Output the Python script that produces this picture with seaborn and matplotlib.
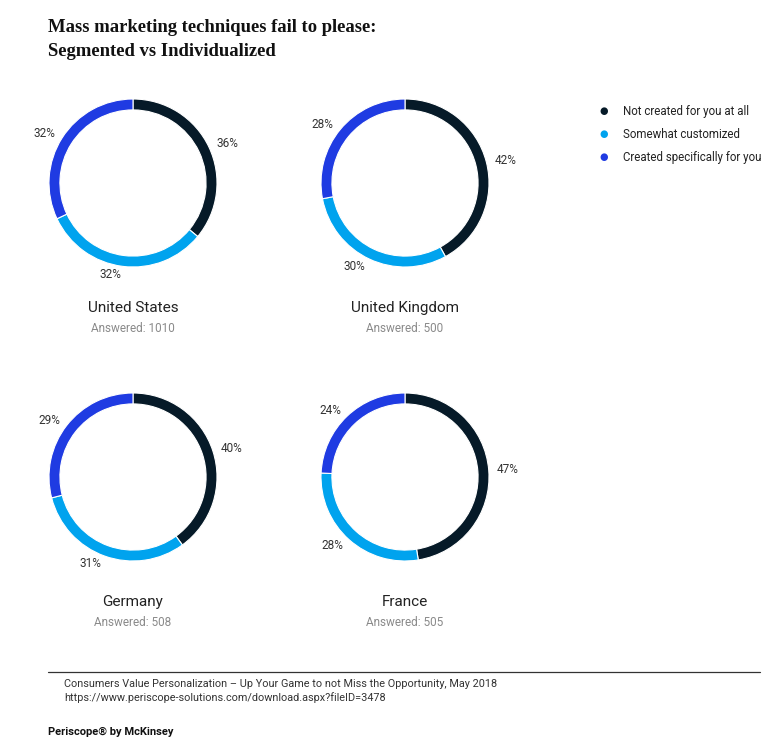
import matplotlib
matplotlib.use("Agg")
import matplotlib.pyplot as plt
import seaborn as sns

# data
countries = ["United States", "United Kingdom", "Germany", "France"]
answered = [1010, 500, 508, 505]
categories = ["Not created for you at all", "Somewhat customized", "Created specifically for you"]
not_created = [36, 42, 40, 47]
somewhat = [32, 30, 31, 28]
specific = [32, 28, 29, 24]

colors = ["#061A28", "#00A3EE", "#1F3BE2"]

sns.set_theme(style="white")
plt.rcParams["font.family"] = ["Roboto", "DejaVu Sans"]

W, H = 768, 754
fig = plt.figure(figsize=(W / 100, H / 100), dpi=100)
fig.patch.set_facecolor("white")

# donut centres in pixels, outer radius in pixels
centres = [(133, 183), (405, 183), (133, 477), (405, 477)]
R = 84
span = 1.4  # axes half-width in units of radius


def px_axes(cx, cy):
    half = R * span
    return fig.add_axes([(cx - half) / W, 1 - (cy + half) / H, 2 * half / W, 2 * half / H])


for i, country in enumerate(countries):
    cx, cy = centres[i]
    ax = px_axes(cx, cy)
    vals = [not_created[i], somewhat[i], specific[i]]
    ax.pie(vals, colors=colors, startangle=90, counterclock=False, radius=1,
           labels=[f"{v}%" for v in vals], labeldistance=1.1,
           textprops=dict(fontsize=8.5, color="#333333", va="center"),
           wedgeprops=dict(width=0.13, edgecolor="white", linewidth=0.8))
    ax.set_xlim(-span, span)
    ax.set_ylim(-span, span)
    ax.set_aspect("equal")
    ax.axis("off")
    fig.text(cx / W, 1 - 308 / H - (cy - 183) / H, country, ha="center", va="center",
             fontsize=11, color="#222222")
    fig.text(cx / W, 1 - 328 / H - (cy - 183) / H, f"Answered: {answered[i]}", ha="center",
             va="center", fontsize=8.5, color="#8a8a8a")

# title
fig.text(48 / W, 1 - 27 / H, "Mass marketing techniques fail to please:", ha="left", va="center",
         fontsize=13.4, fontweight="bold", family="Liberation Serif", color="#111111")
fig.text(48 / W, 1 - 52 / H, "Segmented vs Individualized", ha="left", va="center",
         fontsize=13.4, fontweight="bold", family="Liberation Serif", color="#111111")

# legend
for j, (cat, c) in enumerate(zip(categories, colors)):
    y = 1 - (111 + 23 * j) / H
    fig.text(604 / W, y, "\u25CF", ha="center", va="center", fontsize=7, color=c,
             family="DejaVu Sans")
    fig.text(623 / W, y, cat, ha="left", va="center", fontsize=8.3, color="#222222")

# footer
fig.add_artist(plt.Line2D([48 / W, 760 / W], [1 - 672 / H, 1 - 672 / H], color="#333333", lw=0.9))
fig.text(64 / W, 1 - 684 / H, "Consumers Value Personalization \u2013 Up Your Game to not Miss the Opportunity, May 2018",
         ha="left", va="center", fontsize=7.8, color="#333333")
fig.text(64 / W, 1 - 698 / H, "https://www.periscope-solutions.com/download.aspx?fileID=3478",
         ha="left", va="center", fontsize=7.8, color="#333333")
fig.text(48 / W, 1 - 732 / H, "Periscope\u00ae by McKinsey", ha="left", va="center",
         fontsize=8, fontweight="bold", color="#111111")

fig.savefig("out.png", dpi=100, facecolor="white")
